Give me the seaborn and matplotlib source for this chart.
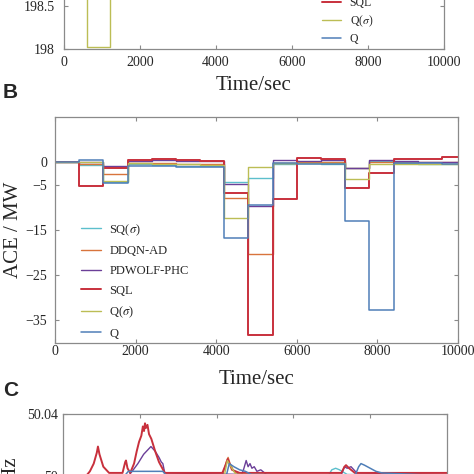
import numpy as np
import pandas as pd
import seaborn as sns
import matplotlib
matplotlib.use('Agg')
import matplotlib.pyplot as plt

sns.set_style('ticks')
plt.rcParams['font.family'] = ['Liberation Serif', 'DejaVu Serif']
plt.rcParams['mathtext.fontset'] = 'stix'

##############################################################################
# data

names = ['SQ($\\sigma$)', 'DDQN-AD', 'PDWOLF-PHC', 'SQL', 'Q($\\sigma$)', 'Q']
colors = ['#5cbfcc', '#d8743c', '#6b3f98', '#c8303c', '#bcbd55', '#4f7fb8']
widths = [1.0, 1.0, 1.0, 1.4, 1.0, 1.1]

# step starts (sec), load changes every 600 s
t_steps = [0, 600, 1200, 1800, 2400, 3000, 3600, 4200, 4800, 5400,
           6000, 6600, 7200, 7800, 8400, 9000, 9600, 10200]

# panel A (only its bottom is visible)
a_sql = [200, 200, 200, 200, 200, 200, 200, 200, 200, 200, 200, 200, 200, 200, 200, 200, 200]
a_qs = [200, 198.02, 200, 200, 200, 200, 200, 200, 200, 200, 200, 200, 200, 200, 200, 200, 200]
a_q = [200, 200, 200, 200, 200, 200, 200, 200, 200, 200, 200, 200, 200, 200, 200, 200, 200]

# panel B, ACE (MW)
b_sqs = [0, -0.6, -4.4, -0.5, -0.6, -0.8, -0.9, -4.3, -3.5, -0.3, -0.2, -0.3, -1.2, 0.2, -0.2, -0.3, -0.4]
b_ddqn = [0, -0.3, -2.6, -0.2, -0.1, -0.3, -0.4, -8.0, -20.3, -0.1, 0.1, 0.0, -1.3, 0.1, 0.1, 0.0, 0.0]
b_pdwolf = [0, 0.1, -0.9, 0.3, 0.5, 0.3, 0.35, -4.9, -9.7, 0.4, 0.3, 0.5, -1.3, 0.4, 0.2, 0.1, 0.1]
b_sql = [0, -5.2, -1.2, 0.4, 0.7, 0.45, 0.3, -6.9, -38.3, -8.2, 1.0, 0.6, -5.6, -2.4, 0.7, 0.8, 1.2]
b_qs = [0, 0.1, -4.2, -0.1, -0.3, -0.4, -0.6, -12.4, -1.0, -0.1, -0.1, -0.2, -3.8, -0.3, -0.3, -0.4, -0.4]
b_q = [0, 0.4, -4.6, -0.9, -0.9, -1.0, -1.1, -16.8, -9.5, -0.1, -0.3, -0.3, -13.0, -32.8, -0.1, -0.2, -0.3]

# panel C, frequency (Hz), only the top strip is visible
c_sql_t = [0, 600, 700, 800, 880, 910, 950, 1050, 1200, 1550, 1620, 1640, 1680, 1750, 1850,
           1920, 1980, 2040, 2080, 2110, 2135, 2160, 2200, 2240, 2300, 2400, 2500, 2650,
           4150, 4250, 4290, 4400, 4600, 7250, 7330, 7370, 7450, 7600, 10000]
c_sql_f = [50.0, 50.0, 50.003, 50.008, 50.015, 50.019, 50.014, 50.006, 50.002, 50.002, 50.009,
           50.010, 50.005, 50.002, 50.008, 50.016, 50.022, 50.026, 50.032, 50.029, 50.034,
           50.031, 50.033, 50.027, 50.024, 50.016, 50.009, 50.002, 50.002, 50.008, 50.011,
           50.004, 50.002, 50.002, 50.006, 50.007, 50.005, 50.002, 50.002]
c_pdwolf_t = [0, 1700, 1800, 1950, 2100, 2290, 2400, 2500, 2560, 2600, 2650, 4650, 4700, 4770,
              4820, 4870, 4920, 4980, 5050, 5150, 5300, 7250, 7330, 7400, 7500, 7650, 10000]
c_pdwolf_f = [50.0, 50.0, 50.003, 50.008, 50.014, 50.019, 50.016, 50.012, 50.009, 50.008,
              50.002, 50.001, 50.004, 50.010, 50.006, 50.008, 50.005, 50.006, 50.003, 50.004,
              50.001, 50.001, 50.006, 50.005, 50.006, 50.002, 50.001]
c_ddqn_t = [0, 4150, 4250, 4300, 4350, 4450, 4600, 10000]
c_ddqn_f = [50.0, 50.0, 50.009, 50.012, 50.008, 50.003, 50.001, 50.0]
c_q_t = [0, 1600, 1700, 2600, 2700, 4250, 4330, 4450, 4600, 4750, 4900, 7600, 7700, 7760,
         7850, 8000, 8150, 8300, 10000]
c_q_f = [50.0, 50.0, 50.003, 50.003, 50.0, 50.0, 50.008, 50.006, 50.004, 50.003, 50.001,
         50.0, 50.006, 50.008, 50.007, 50.005, 50.003, 50.002, 50.0]
c_sqs_t = [0, 6900, 7000, 7100, 7200, 7400, 10000]
c_sqs_f = [50.0, 50.0, 50.004, 50.005, 50.004, 50.001, 50.0]
c_qs_t = [0, 4200, 4280, 4350, 4500, 10000]
c_qs_f = [50.0, 50.0, 50.010, 50.007, 50.001, 50.0]

x_ticks = [0, 2000, 4000, 6000, 8000, 10000]
a_yticks = [198, 198.5, 199]
a_ylabels = ['198', '198.5', '199']
b_yticks = [-35, -25, -15, -5, 0]
c_yticks = [49.96, 50, 50.04]
c_ylabels = ['49.96', '50', '50.04']

##############################################################################

fig = plt.figure(figsize=(4.74, 4.74), dpi=100)


def box(l, t, r, b):
    # pixel box -> figure fraction
    return [l / 474, 1 - b / 474, (r - l) / 474, (b - t) / 474]


def style(ax, xpad, ypad):
    for s in ax.spines.values():
        s.set_color('#8a8a8a')
        s.set_linewidth(0.9)
    ax.tick_params(direction='in', length=3, width=0.8, color='#8a8a8a',
                   top=True, right=True, labelsize=10)
    ax.tick_params(axis='x', pad=xpad)
    ax.tick_params(axis='y', pad=ypad)


def steps(ax, vals, i):
    sns.lineplot(x=t_steps, y=vals + [vals[-1]], ax=ax, drawstyle='steps-post',
                 color=colors[i], lw=widths[i], label=names[i], legend=False)


ax_a = fig.add_axes(box(64, -37, 444, 49))
ax_b = fig.add_axes(box(55, 117, 458, 343))
ax_c = fig.add_axes(box(63, 414, 447, 538))

# A
steps(ax_a, a_sql, 3)
steps(ax_a, a_qs, 4)
steps(ax_a, a_q, 5)
ax_a.set_xlim(0, 10000)
ax_a.set_ylim(198, 199)
ax_a.set_xticks(x_ticks)
ax_a.set_yticks(a_yticks, a_ylabels)
style(ax_a, 5, 6.5)
ax_a.set_xlabel('Time/sec', fontsize=15)
ax_a.xaxis.set_label_coords(0.5, -0.31)
ax_a.set_ylabel('')
ax_a.legend(loc='lower left', bbox_to_anchor=(0.68, 0.05), frameon=False, fontsize=8.5,
            handlelength=1.6, handletextpad=0.7, labelspacing=0.35, borderpad=0,
            borderaxespad=0)

# B
for i, vals in enumerate([b_sqs, b_ddqn, b_pdwolf, b_sql, b_qs, b_q]):
    steps(ax_b, vals, i)
ax_b.set_xlim(0, 10000)
ax_b.set_ylim(-40, 10)
ax_b.set_xticks(x_ticks)
ax_b.set_yticks(b_yticks)
style(ax_b, 1.5, 5.5)
ax_b.set_xlabel('Time/sec', fontsize=15)
ax_b.xaxis.set_label_coords(0.5, -0.12)
ax_b.set_ylabel('ACE / MW', fontsize=15)
ax_b.yaxis.set_label_coords(-0.08, 0.5)
ax_b.legend(loc='upper left', bbox_to_anchor=(0.065, 0.535), frameon=False, fontsize=9,
            handlelength=1.6, handletextpad=0.65, labelspacing=0.62, borderpad=0,
            borderaxespad=0)

# C
c_series = [(c_sqs_t, c_sqs_f), (c_ddqn_t, c_ddqn_f), (c_pdwolf_t, c_pdwolf_f),
            (c_sql_t, c_sql_f), (c_qs_t, c_qs_f), (c_q_t, c_q_f)]
for i, (tt, ff) in enumerate(c_series):
    sns.lineplot(x=tt, y=ff, ax=ax_c, color=colors[i], lw=widths[i], legend=False)
ax_c.set_xlim(0, 10000)
ax_c.set_ylim(49.96, 50.04)
ax_c.set_xticks(x_ticks)
ax_c.set_yticks(c_yticks, c_ylabels)
style(ax_c, 3, 3.5)
ax_c.set_ylabel('f / Hz', fontsize=15)
ax_c.yaxis.set_label_coords(-0.11, 0.46)

fig.text(0.006, 1 - 93 / 474, 'B', family='Liberation Sans', weight='bold',
         fontsize=15, va='center', ha='left')
fig.text(0.006, 1 - 390 / 474, 'C', family='Liberation Sans', weight='bold',
         fontsize=15, va='center', ha='left')

fig.savefig('out.png', dpi=100)
